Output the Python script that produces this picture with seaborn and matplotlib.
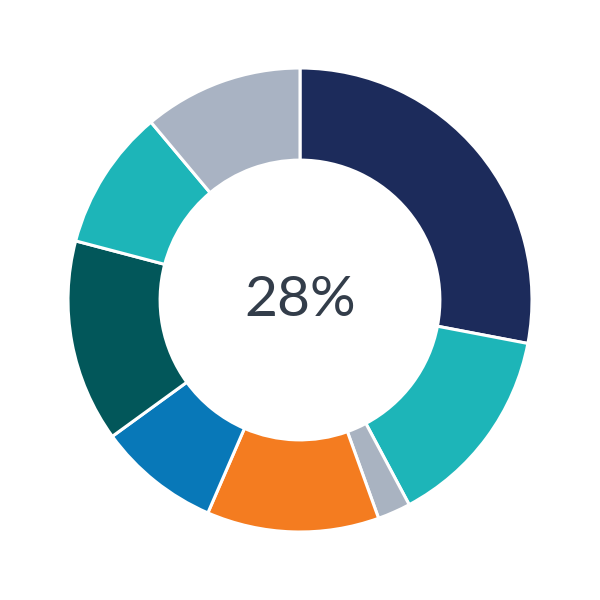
import matplotlib
matplotlib.use("Agg")
import matplotlib.pyplot as plt
import seaborn as sns

# slice shares, clockwise from 12 o'clock
shares = [28, 14.2, 2.3, 12, 8.5, 14.1, 9.8, 11.1]
colors = ["#1c2b5b", "#1db5b8", "#a9b3c1", "#f47c20", "#0878b8",
          "#02575a", "#1db5b8", "#a9b3c3"]
center_label = "28%"

sns.set_theme(style="white")
plt.rcParams["font.family"] = ["Lato", "DejaVu Sans"]

fig = plt.figure(figsize=(6, 6), dpi=100)
ax = fig.add_axes([0, 0, 1, 1])

ax.pie(shares, colors=sns.color_palette(colors), startangle=90, counterclock=False,
       radius=1, wedgeprops=dict(width=0.397, edgecolor="white", linewidth=2.2))

ax.text(0, 0, center_label, ha="center", va="center", fontsize=41,
        color="#333d4a")

lim = 300 / 232
ax.set_xlim(-lim, lim)
ax.set_ylim(-lim, lim)
ax.set_aspect("equal")
ax.axis("off")

fig.savefig("out.png", dpi=100, facecolor="white")
